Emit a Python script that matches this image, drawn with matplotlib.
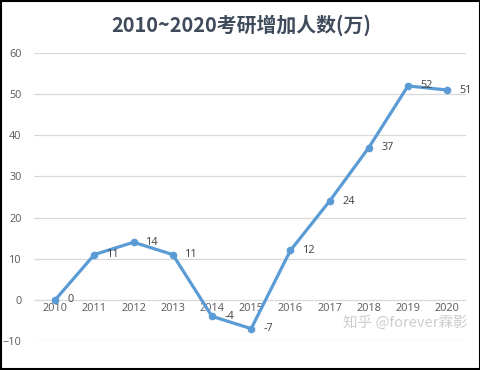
import matplotlib
matplotlib.use("Agg")
import matplotlib.pyplot as plt
from matplotlib.patches import Rectangle

plt.rcParams['font.family'] = ['Noto Sans CJK SC', 'DejaVu Sans']

# ---------------- data ----------------
years = ['2010', '2011', '2012', '2013', '2014', '2015',
         '2016', '2017', '2018', '2019', '2020']
increase = [0, 11, 14, 11, -4, -7, 12, 24, 37, 52, 51]
y_ticks = [-10, 0, 10, 20, 30, 40, 50, 60]

title = '2010~2020考研增加人数(万)'
watermark = '知乎 @forever霖影'

line_color = '#5B9BD5'
text_color = '#595959'

fig = plt.figure(figsize=(4.81, 3.70), dpi=100)
ax = fig.add_axes([34 / 481, 1 - 341 / 370, (466 - 34) / 481, (341 - 53) / 370])

xs = list(range(len(years)))
ax.plot(xs, increase, color=line_color, lw=2.3, marker='o', ms=4.5,
        solid_joinstyle='round', zorder=3)

# data labels, to the right of each point
for x, v in zip(xs, increase):
    ax.annotate(str(v), (x, v), xytext=(9, 0), textcoords='offset points',
                ha='left', va='center', fontsize=7.8, color='#404040',
                family=['Open Sans', 'DejaVu Sans'], zorder=4)

ax.set_xlim(-0.54, 10.48)
ax.set_ylim(-10, 60)
ax.set_yticks(y_ticks)
ax.yaxis.grid(True, color='#D9D9D9', lw=0.9)
ax.set_axisbelow(True)
ax.set_xticks([])
for s in ax.spines.values():
    s.set_visible(False)
ax.tick_params(axis='y', length=0, pad=9, labelsize=7.8, labelcolor=text_color)
for lbl in ax.get_yticklabels():
    lbl.set_family(['Open Sans', 'DejaVu Sans'])

# category labels sit just under the zero line
for x, yr in zip(xs, years):
    ax.text(x, -2.1, yr, ha='center', va='center', fontsize=7.8,
            color=text_color, family=['Open Sans', 'DejaVu Sans'], zorder=2)

fig.text(0.5 + 1 / 481, 1 - 25 / 370, title, ha='center', va='center',
         fontsize=14.3, fontweight='bold', color='#3F4A5A')

fig.text(468 / 481, 1 - 323 / 370, watermark, ha='right', va='center',
         fontsize=10.5, color='#CDCDCD')

# black frame around the picture
fig.add_artist(Rectangle((0.002, 0.003), 0.995, 0.994, transform=fig.transFigure,
                         fill=False, ec='black', lw=1.5))

fig.savefig('out.png', dpi=100, facecolor='white')
